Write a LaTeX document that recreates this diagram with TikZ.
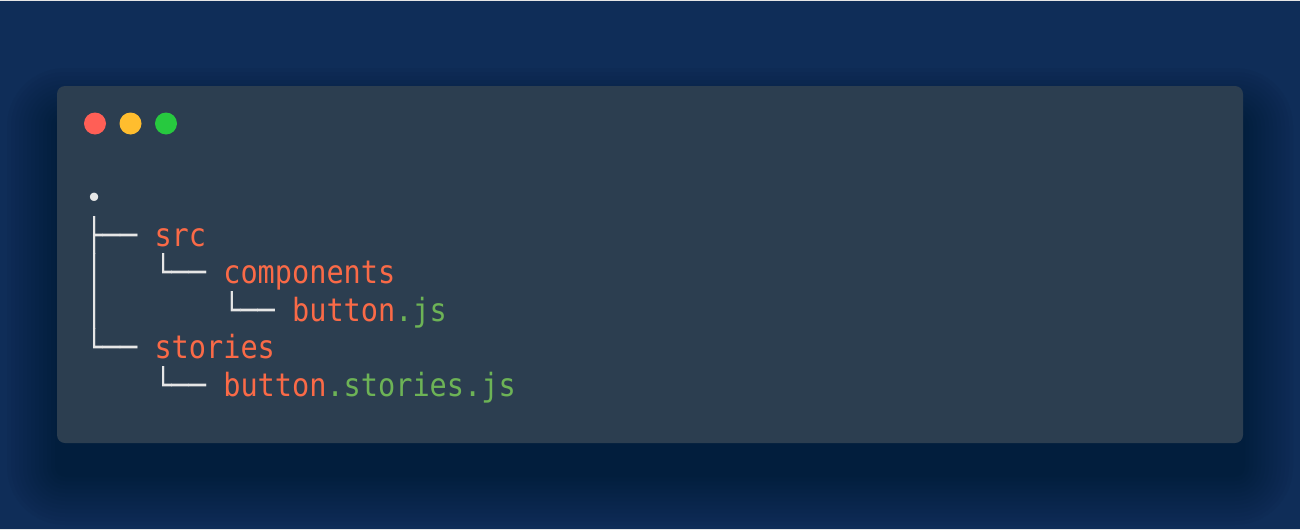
\documentclass[tikz,border=0pt]{standalone}
\usepackage{fontspec}
\newfontfamily\codefont[FakeStretch=0.893]{DejaVu Sans Mono}
\definecolor{navy}{HTML}{0F2D58}
\definecolor{winbg}{HTML}{2C3E50}
\definecolor{dirc}{HTML}{FA6A47}
\definecolor{ext}{HTML}{6DB356}
\definecolor{linec}{HTML}{E6E6E6}
\definecolor{redbtn}{HTML}{FF5F56}
\definecolor{yelbtn}{HTML}{FFBD2E}
\definecolor{grnbtn}{HTML}{27C93F}

\begin{document}
\begin{tikzpicture}[x=1pt,y=-1pt,
	code/.style={anchor=base west,inner sep=0pt,font=\codefont\fontsize{32pt}{37.5pt}\selectfont},
	tree/.style={code,text=linec},
	dir/.style={code,text=dirc},
	light/.style={circle,inner sep=0pt,minimum size=22pt}]
			\useasboundingbox (0,0) rectangle (1300,530);
			\clip (0,0) rectangle (1300,530);
			\fill[navy] (0,0) rectangle (1300,530);
			\draw[linec,line width=1.2pt] (0,0.6) -- (1300,0.6);
			\draw[linec,line width=1.2pt] (0,529.2) -- (1300,529.2);
			\foreach \s in {2,6,...,50}
				\fill[black,opacity=0.022,rounded corners=8+\s] (57-\s,118-\s) rectangle (1243+\s,475+\s);
			\fill[winbg,rounded corners=8] (57,86) rectangle (1243,443);
			
			\node[light,fill=redbtn] (red) at (95,123.5) {};
			\node[light,fill=yelbtn] (yellow) at (130.5,123.5) {};
			\node[light,fill=grnbtn] (green) at (166,123.5) {};
			
			\node[tree,font=\rmfamily\bfseries\fontsize{58pt}{58pt}\selectfont] (root) at (85.5,201) {.};
			\node[tree] (t1) at (85.5,246) {├──};
			\node[dir] (src) at (154.3,246) {src};
			\node[tree] (v2) at (85.5,283.5) {│};
			\node[tree] (t2) at (154.3,283.5) {└──};
			\node[dir] (comp) at (223.1,283.5) {components};
			\node[tree] (v3) at (85.5,321) {│};
			\node[tree] (t3) at (223.1,321) {└──};
			\node[dir] (btn) at (291.9,321) {button\textcolor{ext}{.js}};
			\node[tree] (t4) at (85.5,358.5) {└──};
			\node[dir] (stor) at (154.3,358.5) {stories};
			\node[tree] (t5) at (154.3,396) {└──};
			\node[dir] (btnst) at (223.1,396) {button\textcolor{ext}{.stories.js}};
		\end{tikzpicture}
\end{document}
